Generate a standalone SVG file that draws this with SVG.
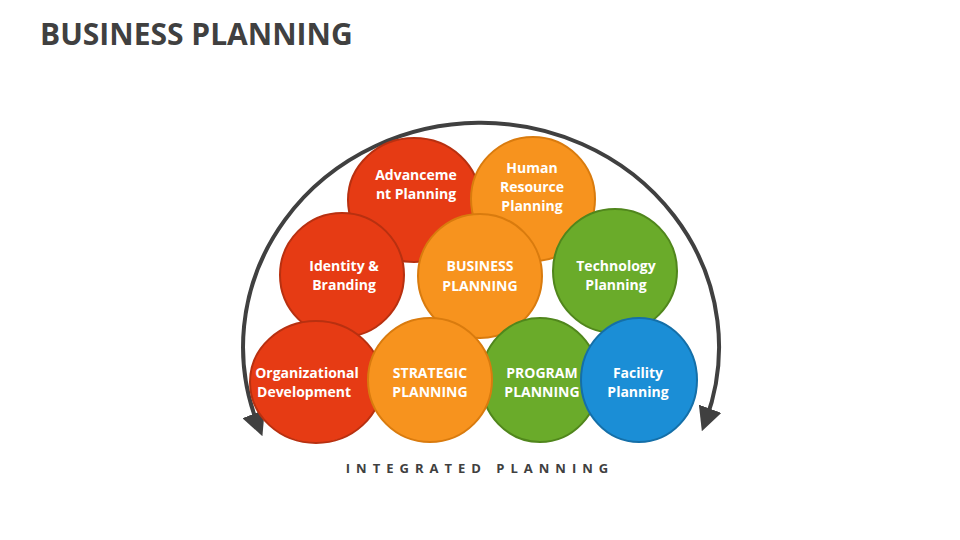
<svg xmlns="http://www.w3.org/2000/svg" width="960" height="540" viewBox="0 0 960 540">
<style>
.t{font-family:"Open Sans","Liberation Sans",sans-serif;font-weight:bold;fill:#fff;font-size:14px;text-anchor:middle}
.red{fill:#E63B14;stroke:#B83010;stroke-width:2}
.org{fill:#F7931E;stroke:#D97B0E;stroke-width:2}
.grn{fill:#6AAB2A;stroke:#50861C;stroke-width:2}
.blu{fill:#1B8ED6;stroke:#146FA8;stroke-width:2}
</style>
<defs>
<marker id="ah" viewBox="0 0 10 10" refX="5" refY="5" markerWidth="6" markerHeight="6" orient="auto-start-reverse" markerUnits="strokeWidth">
<path d="M0,0 L10,5 L0,10 z" fill="#404040"/>
</marker>
</defs>
<rect width="960" height="540" fill="#fff"/>
<text x="40" y="45" font-family="Open Sans,Liberation Sans,sans-serif" font-weight="bold" font-size="30" fill="#404040">BUSINESS PLANNING</text>
<g id="connectors">
<path d="M258,425 A238,224 0 1 1 706,420" fill="none" stroke="#404040" stroke-width="4" marker-start="url(#ah)" marker-end="url(#ah)"/>
</g>
<g id="advancement"><ellipse class="red" cx="414" cy="200" rx="66" ry="62"/><text class="t" x="416" y="180">Advanceme</text><text class="t" x="416" y="199">nt Planning</text></g>
<g id="hr"><ellipse class="org" cx="533" cy="199" rx="62" ry="62"/><text class="t" x="532" y="173">Human</text><text class="t" x="532" y="192">Resource</text><text class="t" x="532" y="211">Planning</text></g>
<g id="identity"><ellipse class="red" cx="342" cy="275" rx="62" ry="62"/><text class="t" x="344" y="271">Identity &amp;</text><text class="t" x="344" y="290">Branding</text></g>
<g id="business"><ellipse class="org" cx="480" cy="276" rx="62" ry="62"/><text class="t" x="480" y="271" font-size="15">BUSINESS</text><text class="t" x="480" y="291" font-size="15">PLANNING</text></g>
<g id="technology"><ellipse class="grn" cx="615" cy="271" rx="62" ry="62"/><text class="t" x="616" y="271">Technology</text><text class="t" x="616" y="290">Planning</text></g>
<g id="organizational"><ellipse class="red" cx="316" cy="382" rx="66" ry="61"/><text class="t" x="307" y="378">Organizational</text><text class="t" x="304" y="397">Development</text></g>
<g id="program"><ellipse class="grn" cx="540" cy="380" rx="59" ry="62"/><text class="t" x="542" y="378">PROGRAM</text><text class="t" x="542" y="397">PLANNING</text></g>
<g id="strategic"><ellipse class="org" cx="430" cy="380" rx="62" ry="62"/><text class="t" x="430" y="378">STRATEGIC</text><text class="t" x="430" y="397">PLANNING</text></g>
<g id="facility"><ellipse class="blu" cx="639" cy="380" rx="58" ry="62"/><text class="t" x="638" y="378">Facility</text><text class="t" x="638" y="397">Planning</text></g>
<text x="480" y="473" font-family="Open Sans,Liberation Sans,sans-serif" font-weight="bold" font-size="13" fill="#404040" text-anchor="middle" letter-spacing="6">INTEGRATED PLANNING</text>
</svg>
